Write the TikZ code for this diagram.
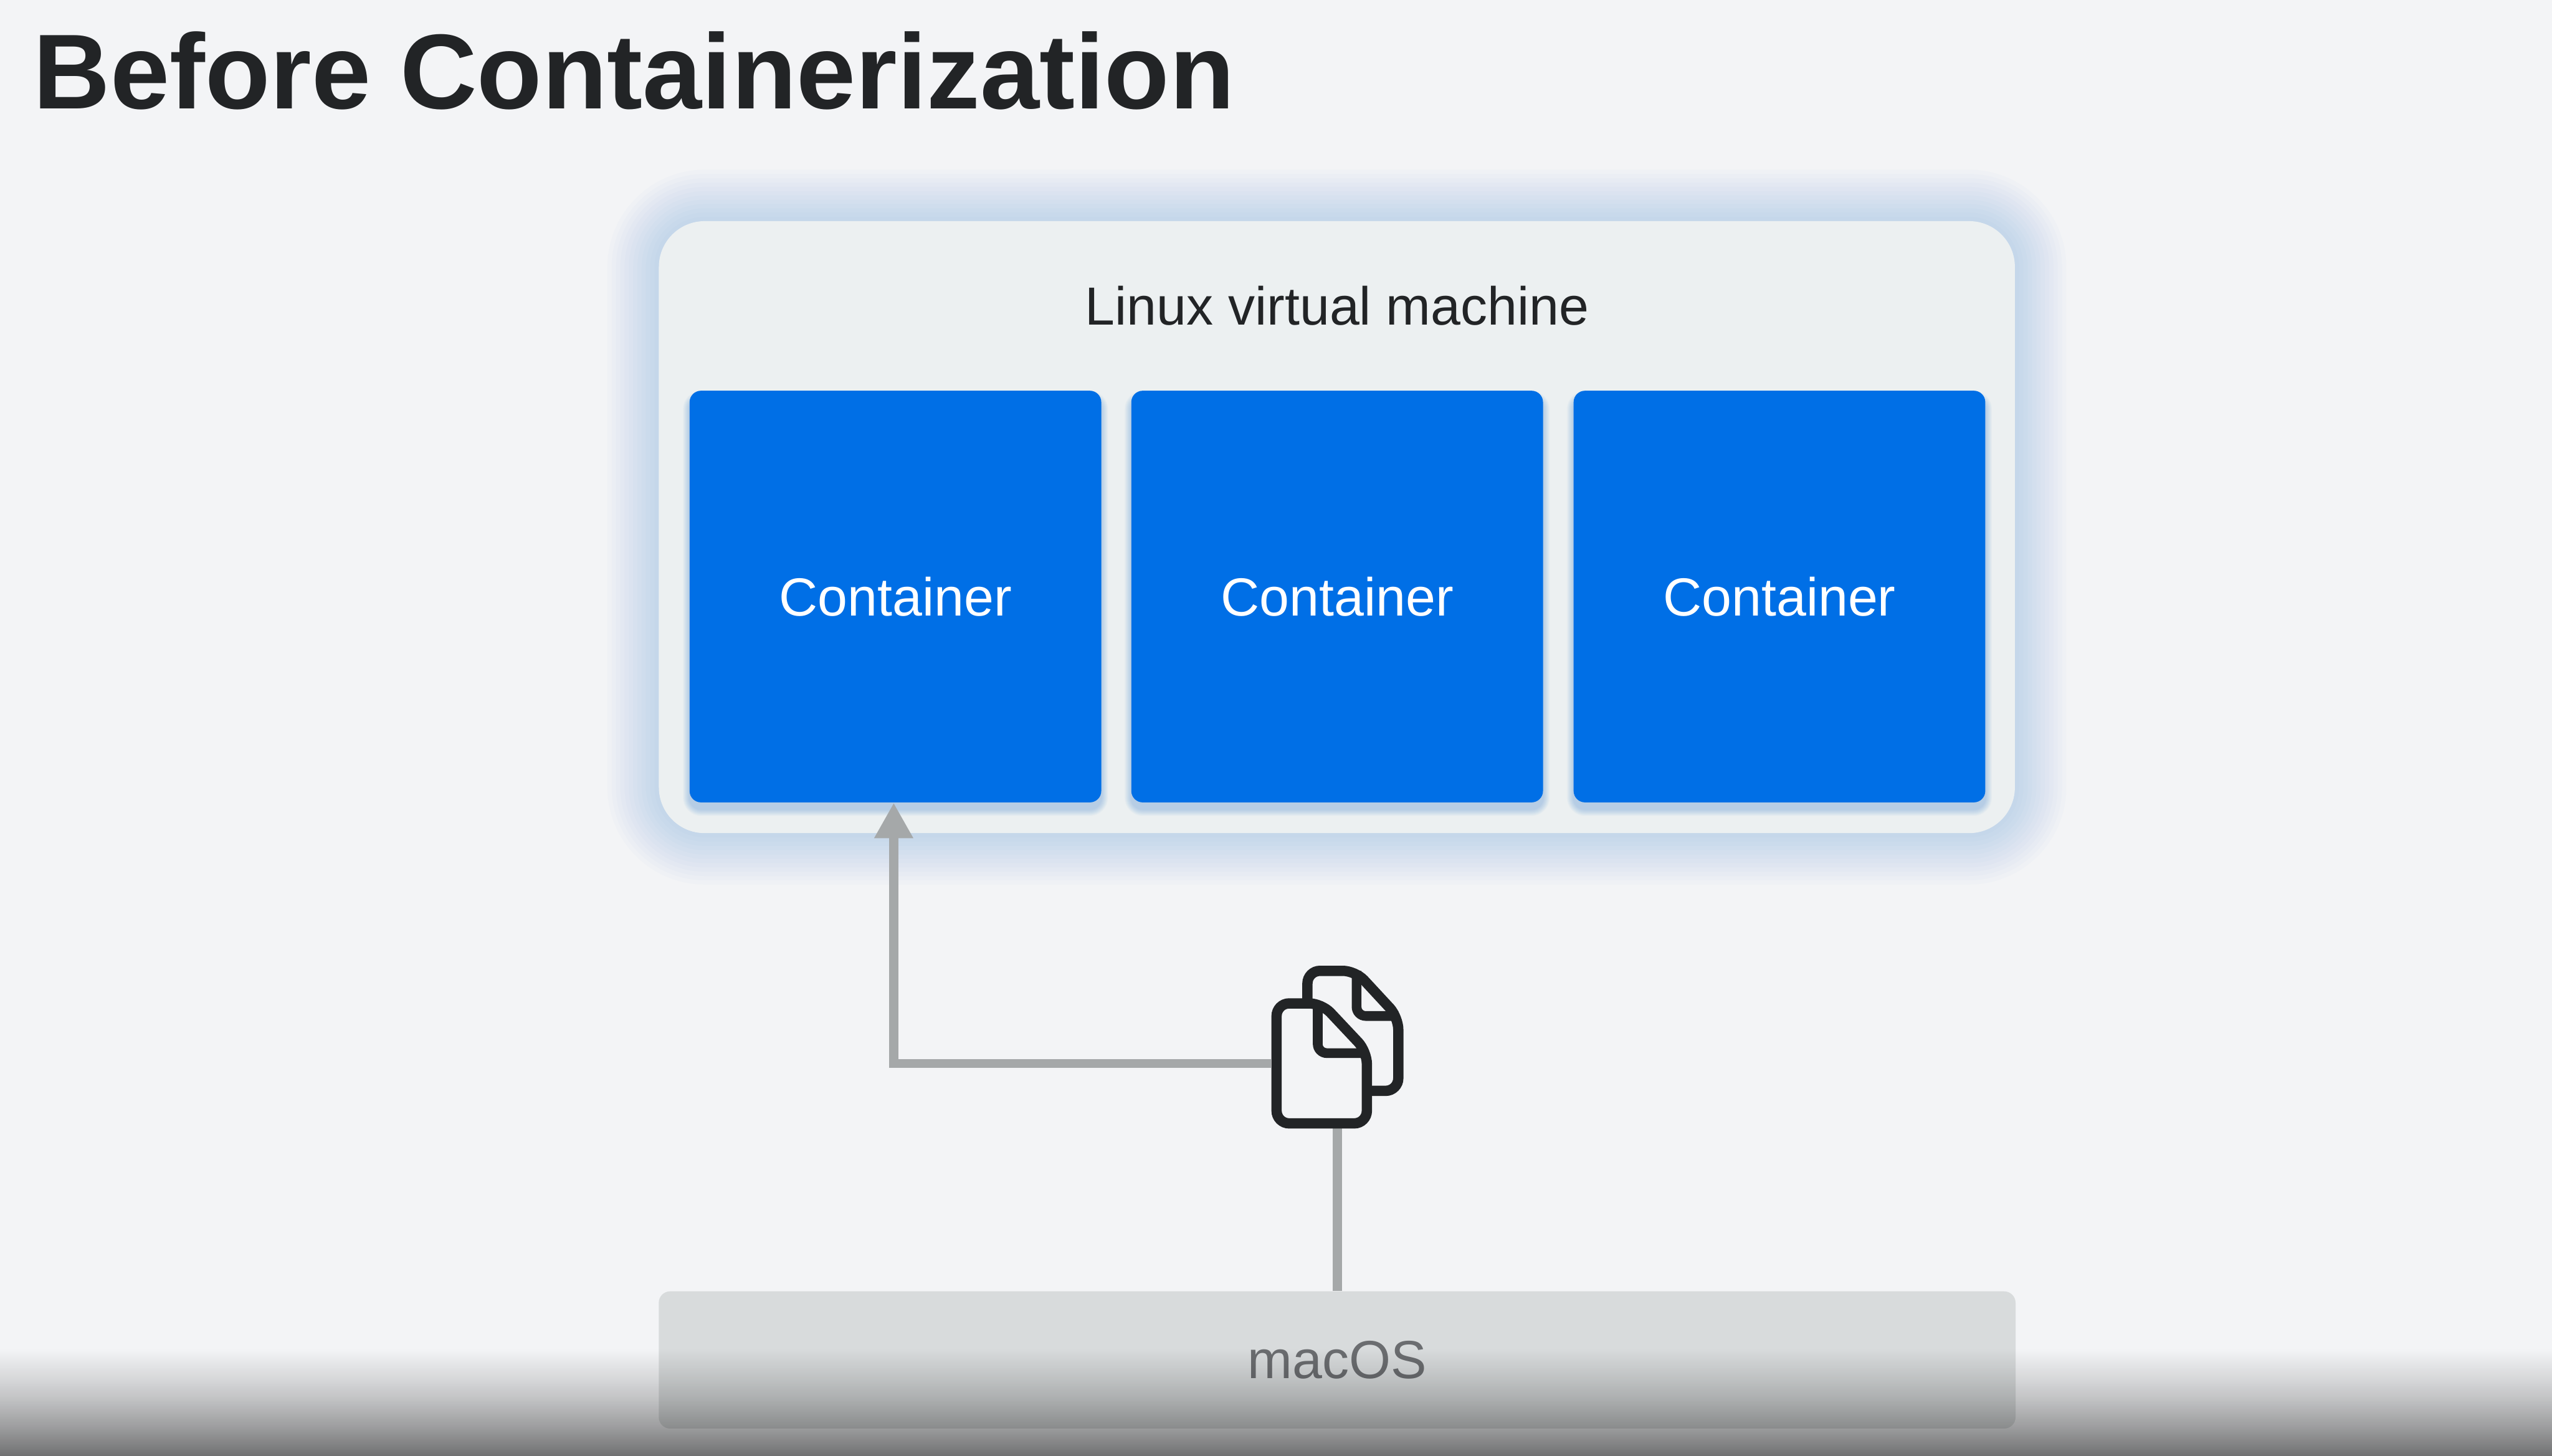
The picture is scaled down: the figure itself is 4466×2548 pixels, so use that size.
\documentclass[tikz,border=0pt]{standalone}
\usepackage{fontspec}
\setmainfont{Liberation Sans}
\usetikzlibrary{arrows.meta,fadings}
\definecolor{pagebg}{HTML}{F3F4F6}
\definecolor{vmfill}{HTML}{ECF0F1}
\definecolor{vmglow}{HTML}{4F91DB}
\definecolor{boxblue}{HTML}{006FE6}
\definecolor{hostfill}{HTML}{D8DBDC}
\definecolor{wiregray}{HTML}{A5A8A9}
\definecolor{inkdark}{HTML}{222426}
\definecolor{hostink}{HTML}{6B6D70}
\pgfdeclareverticalshading{vigshade}{100bp}{rgb(0bp)=(.54,.54,.54); rgb(25bp)=(.54,.54,.54); rgb(37.5bp)=(.35,.35,.35); rgb(50bp)=(.19,.19,.19); rgb(62.5bp)=(.0675,.0675,.0675); rgb(70bp)=(0,0,0); rgb(100bp)=(0,0,0)}
\pgfdeclarefading{vigfade}{\pgfuseshading{vigshade}}
\tikzset{
  containerbox/.style={fill=boxblue,text=white,rounded corners=.2cm,minimum size=7.2cm,inner sep=0pt,font=\fontsize{26.7}{30}\selectfont},
  hostbox/.style={fill=hostfill,text=hostink,rounded corners=.2cm,minimum width=23.73cm,minimum height=2.4cm,inner sep=0pt,font=\fontsize{26.7}{30}\selectfont},
  vmlabel/.style={text=inkdark,inner sep=0pt,font=\fontsize{26.7}{30}\selectfont},
  wire/.style={draw=wiregray,line width=.16cm},
  filesicon/.style={draw=inkdark,line width=.18cm,rounded corners=.22cm,line cap=round},
  foldline/.style={draw=inkdark,line width=.17cm,rounded corners=.16cm}
}
\begin{document}
\begin{tikzpicture}[x=.01cm,y=-.01cm]
  \useasboundingbox (0,0) rectangle (4466,2548);
  \clip (0,0) rectangle (4466,2548);
  \fill[pagebg] (0,0) rectangle (4466,2548);
  \foreach \i [evaluate=\i as \r using 7.5*\i] in {1,...,12}
    \fill[vmglow,opacity=.025,rounded corners=.8cm+\r*.01cm] (1153-\r,387-\r) rectangle (3526+\r,1458+\r);
  \fill[vmfill,rounded corners=.8cm] (1153,387) rectangle (3526,1458);
  \foreach \x in {1567,2340,3114}
    \foreach \i [evaluate=\i as \r using 3.2*\i] in {1,...,12}
      \fill[vmglow,opacity=.03,rounded corners=.2cm+\r*.01cm] (\x-360-\r,684-\r+12) rectangle (\x+360+\r,1404+\r+12);
  \node[vmlabel] (vmtitle) at (2340,535) {Linux virtual machine};
  \node[containerbox] (container1) at (1567,1044) {Container};
  \node[containerbox] (container2) at (2340,1044) {Container};
  \node[containerbox] (container3) at (3114,1044) {Container};
  \node[hostbox] (macos) at (2340,2380) {macOS};
  \node[minimum width=1.76cm,minimum height=2.26cm,inner sep=0pt] (files) at (2313,1861) {};
  \draw[wire,-{Triangle[length=.62cm,width=.64cm]}] (files.west) -| ([xshift=-.03cm]container1.south);
  \draw[wire] (macos.north) -- (macos.north |- files.south);
  \draw[filesicon] (2288,1748) -- (2288,1699) -- (2372,1699) -- (2447,1780) -- (2447,1909) -- (2401,1909);
  \draw[foldline] (2374,1699) -- (2374,1778) -- (2447,1778);
  \draw[filesicon] (2234,1966) -- (2234,1756) -- (2313,1756) -- (2392,1840) -- (2392,1966) -- cycle;
  \draw[foldline] (2306,1756) -- (2306,1843) -- (2392,1843);
  \node[anchor=base west,inner sep=0pt,text=inkdark,font=\fontsize{53}{60}\selectfont\bfseries] (pagetitle) at (58,190) {Before Containerization};
  \fill[black,path fading=vigfade] (-100,2340) rectangle (4566,2548);
\end{tikzpicture}
\end{document}
